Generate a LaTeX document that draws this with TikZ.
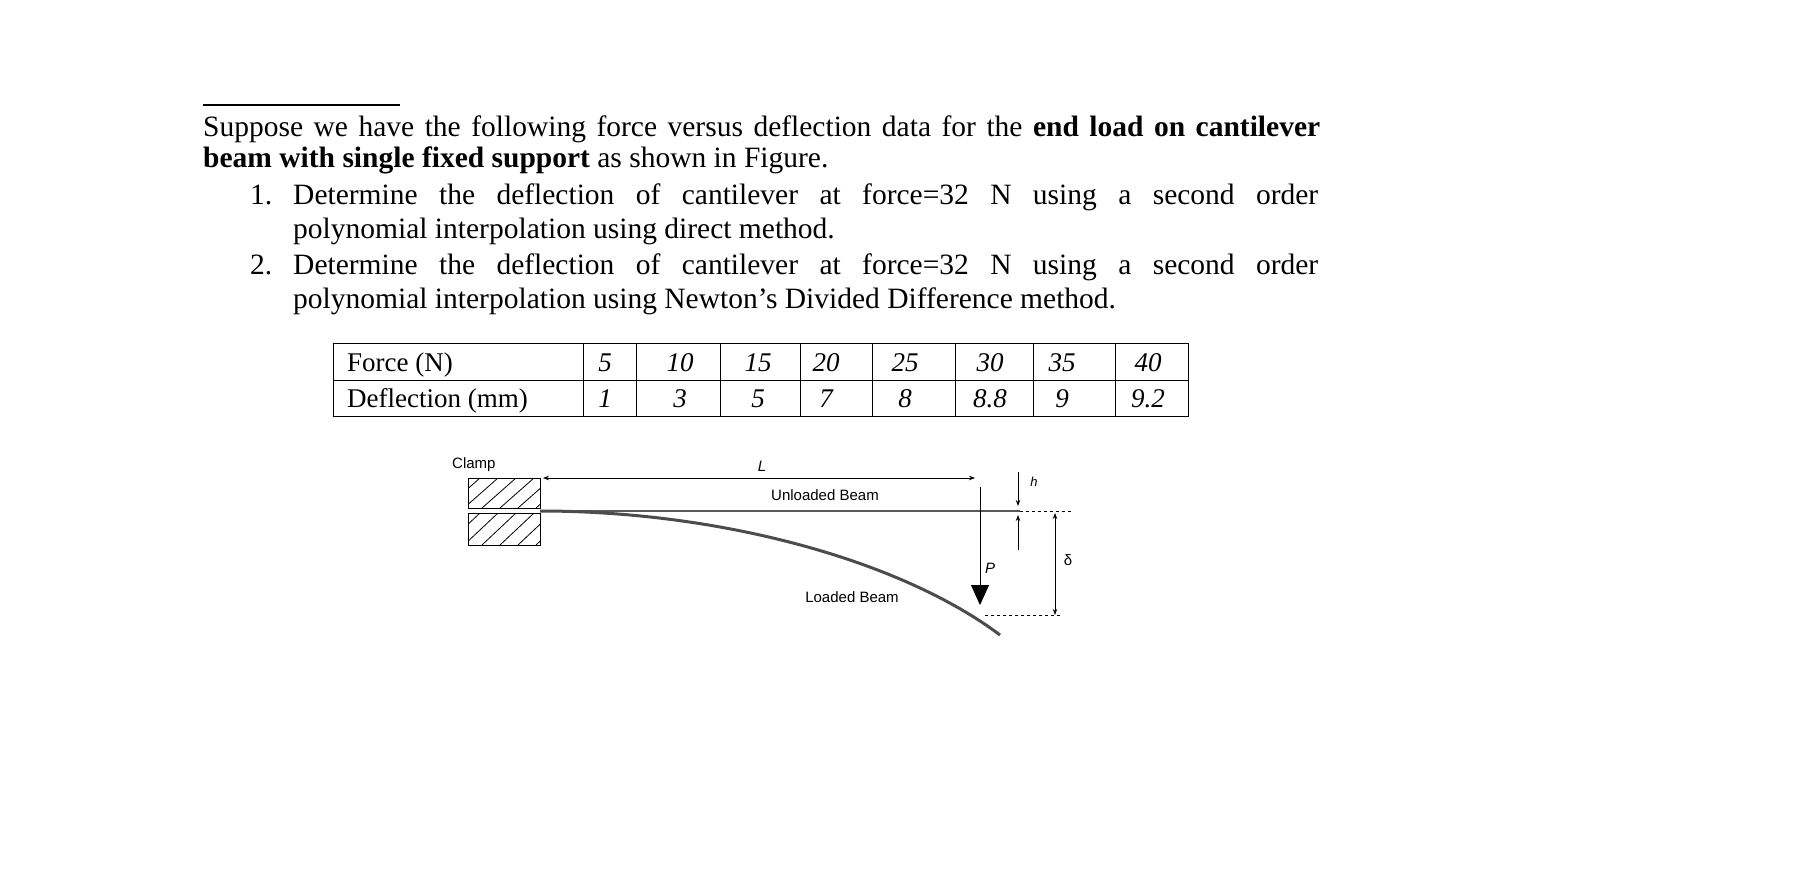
\documentclass[tikz,border=0pt]{standalone}
\usepackage{fontspec}
\setmainfont{Liberation Serif}
\newfontfamily\figfont{Liberation Sans}
\usetikzlibrary{arrows.meta}
\tikzset{txt/.style={anchor=base west,inner sep=0,font=\fontsize{29.5}{32}\selectfont},
 cell/.style={font=\fontsize{27}{30}\selectfont\itshape,inner sep=0,anchor=base},
 lab/.style={font=\figfont\fontsize{15}{17}\selectfont,inner sep=0},
 dim/.style={line width=0.8pt,-{Stealth[length=6pt]}}}
\begin{document}
\begin{tikzpicture}[x=1pt,y=-1pt]
\useasboundingbox (0,0) rectangle (1814,874);
\draw[line width=2pt] (203,105) -- (400,105);
\node[txt] (l1) at (203,137) {\makebox[1117pt][s]{Suppose we have the following force versus deflection data for the \textbf{end load on cantilever}}};
\node[txt] (l2) at (203,168) {\textbf{beam with single fixed support} as shown in Figure.};
\node[txt] (n1) at (250,205) {1.};
\node[txt] (i1a) at (293,205) {\makebox[1025pt][s]{Determine the deflection of cantilever at force=32 N using a second order}};
\node[txt] (i1b) at (293,239) {polynomial interpolation using direct method.};
\node[txt] (n2) at (250,275) {2.};
\node[txt] (i2a) at (293,275) {\makebox[1025pt][s]{Determine the deflection of cantilever at force=32 N using a second order}};
\node[txt] (i2b) at (293,309) {polynomial interpolation using Newton’s Divided Difference method.};
% table
\draw[line width=0.8pt] (333,343) rectangle (1188,416);
\draw[line width=0.8pt] (333,380) -- (1188,380);
\foreach \x in {583,636,720,800,872,955,1033,1115} \draw[line width=0.8pt] (\x,343) -- (\x,416);
\node[cell,font=\fontsize{27}{30}\selectfont,anchor=base west] (f) at (347,371) {Force (N)};
\node[cell,font=\fontsize{27}{30}\selectfont,anchor=base west] (d) at (347,407) {Deflection (mm)};
\foreach \a/\b/\x in {5/1/605,10/3/680,15/5/758,20/7/826,25/8/905,30/8.8/990,35/9/1062,40/9.2/1148}{
 \node[cell] at (\x,371) {\a};
 \node[cell] at (\x,407) {\b};}
% figure
\node[lab,anchor=west] (clamp) at (452,465) {Clamp};
\foreach \ya/\yb in {478/508,513/545}{
 \begin{scope}
 \clip (468,\ya) rectangle (540,\yb);
 \foreach \s in {-40,-22,...,110} \draw[line width=0.8pt] (468+\s,\yb) -- (468+\s+34,\ya);
 \end{scope}
 \draw[line width=0.9pt] (468,\ya) rectangle (540,\yb);}
\coordinate (b0) at (540,511);
\coordinate (b1) at (1020,511);
\coordinate (b2) at (1072,511);
\draw[line width=2.5pt,gray!70!black] (b0) -- (b1);
\draw[dashed,line width=0.8pt] (b1) -- (b2);
\draw[line width=3pt,gray!60!black] (b0) .. controls (720,511) and (900,560) .. (1000,635);
\coordinate (La) at (543,478); \coordinate (Lb) at (975,478);
\draw[{Stealth[length=6pt]}-{Stealth[length=6pt]},line width=0.8pt] (La) -- (Lb);
\node[lab,font=\figfont\itshape\fontsize{15}{17}\selectfont] (L) at (762,466) {L};
\node[lab] (ub) at (825,495) {Unloaded Beam};
\node[lab] (lb) at (852,597) {Loaded Beam};
\coordinate (P0) at (980,487); \coordinate (P1) at (980,605);
\draw[line width=0.8pt,-{Triangle[length=20pt,width=18pt]}] (P0) -- (P1);
\node[lab,font=\figfont\itshape\fontsize{15}{17}\selectfont] (P) at (990,568) {P};
\coordinate (h0) at (1018,472); \coordinate (h1) at (1018,506);
\coordinate (h2) at (1018,550); \coordinate (h3) at (1018,515);
\draw[dim] (h0) -- (h1);
\draw[dim] (h2) -- (h3);
\node[lab,font=\figfont\itshape\fontsize{13}{15}\selectfont] (h) at (1034,482) {h};
\coordinate (d0) at (1055,513); \coordinate (d1) at (1055,615);
\draw[{Stealth[length=6pt]}-{Stealth[length=6pt]},line width=0.8pt] (d0) -- (d1);
\coordinate (e0) at (985,615); \coordinate (e1) at (1060,615);
\draw[dashed,line width=0.8pt] (e0) -- (e1);
\node[lab] (delta) at (1068,560) {δ};
\end{tikzpicture}
\end{document}
